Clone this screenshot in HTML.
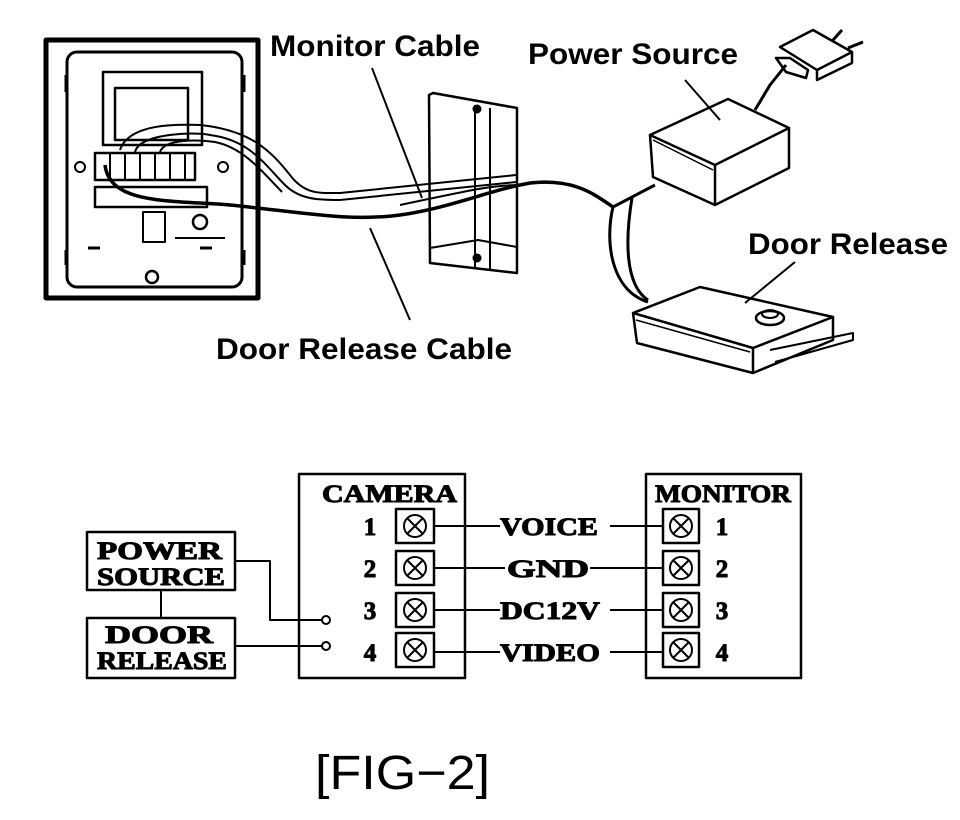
<!DOCTYPE html>
<html><head><meta charset="utf-8"><style>
html,body{margin:0;padding:0;background:#fff;}
svg{display:block;}
.s{font-family:"Liberation Sans",sans-serif;font-weight:bold;}
.r{font-family:"Liberation Serif",serif;font-weight:bold;}
</style></head><body>
<svg width="960" height="820" viewBox="0 0 960 820" xmlns="http://www.w3.org/2000/svg" fill="none" stroke="#000" stroke-linejoin="round">
<!-- camera device -->
<rect x="46" y="40" width="212" height="258" stroke-width="5"/>
<rect x="67" y="52" width="175" height="235" rx="10" stroke-width="3"/>
<rect x="103" y="72" width="99" height="73" stroke-width="2.5"/>
<rect x="115" y="88" width="73" height="52" stroke-width="2.5"/>
<rect x="95" y="153" width="100" height="27" stroke-width="2.5"/>
<g stroke-width="2"><line x1="110" y1="153" x2="110" y2="180"/><line x1="125" y1="153" x2="125" y2="180"/><line x1="140" y1="153" x2="140" y2="180"/><line x1="155" y1="153" x2="155" y2="180"/><line x1="170" y1="153" x2="170" y2="180"/><line x1="185" y1="153" x2="185" y2="180"/></g>
<rect x="95" y="187" width="112" height="20" stroke-width="2.5"/>
<circle cx="80" cy="167" r="5" stroke-width="2"/><circle cx="223" cy="167" r="5" stroke-width="2"/>
<circle cx="152" cy="277" r="6" stroke-width="2.5"/>
<rect x="143" y="212" width="22" height="30" stroke-width="2"/>
<circle cx="200" cy="222" r="7" stroke-width="2.5"/>
<line x1="175" y1="238" x2="225" y2="238" stroke-width="2"/>
<line x1="88" y1="248" x2="100" y2="248" stroke-width="3"/><line x1="200" y1="248" x2="212" y2="248" stroke-width="3"/>
<g stroke-width="3"><line x1="66" y1="75" x2="66" y2="92"/><line x1="244" y1="75" x2="244" y2="92"/><line x1="66" y1="250" x2="66" y2="265"/><line x1="244" y1="250" x2="244" y2="265"/></g>
<!-- wall box -->
<path d="M429 95 L433 93 L517 108 L517 273 L430 263 Z" stroke-width="2.5"/>
<line x1="475" y1="105" x2="475" y2="268" stroke-width="2"/>
<line x1="490" y1="108" x2="490" y2="270" stroke-width="2"/>
<circle cx="477" cy="109" r="4" fill="#000"/><circle cx="477" cy="258" r="4" fill="#000"/>
<path d="M430 248 L478 240 L517 247" stroke-width="2"/>
<!-- monitor cable (double) -->
<path d="M120 150 C130 120 190 125 200 125 C250 130 270 150 290 175 C305 195 320 193 340 193 L516 175" stroke-width="2"/>
<path d="M135 152 C140 132 200 132 210 135 C250 140 265 165 285 185 C300 200 320 200 340 200 L516 182" stroke-width="2"/>
<path d="M160 152 C165 138 200 140 215 142 C245 148 265 175 282 192" stroke-width="2"/>
<!-- door release cable -->
<path d="M105 165 C110 205 170 200 230 205 C300 212 350 222 400 215 C450 208 490 190 530 183 C575 178 595 195 613 207" stroke-width="3.5"/>
<!-- junction & loops -->
<path d="M613 207 L655 185" stroke-width="3"/>
<path d="M613 207 C605 240 610 290 648 302" stroke-width="3"/>
<path d="M632 198 C625 240 625 285 648 300" stroke-width="3"/>
<path d="M520 185 C495 185 480 188 400 205" stroke-width="2"/>
<!-- power box -->
<path d="M650 135 L728 99 L789 128 L715 165 Z" stroke-width="2.5"/>
<path d="M650 135 L653 177 L715 205 L789 168 L789 128" stroke-width="2.5"/>
<path d="M715 165 L715 205" stroke-width="2.5"/>
<path d="M653 140 L713 170" stroke-width="1.5"/>
<path d="M755 110 L770 85 L786 65" stroke-width="3"/>
<!-- plug -->
<path d="M780 47 L813 30 L852 52 L817 70 Z" stroke-width="2.5"/>
<path d="M817 70 L817 80 L852 63 L852 52" stroke-width="2.5"/>
<path d="M776 58 L786 72 L806 78 L808 70 L790 58 Z" stroke-width="2.5"/>
<line x1="833" y1="40" x2="842" y2="30" stroke-width="3"/><line x1="848" y1="48" x2="863" y2="42" stroke-width="3"/>
<!-- door release -->
<path d="M633 313 L700 287 L833 317 L753 348 Z" stroke-width="2.5"/>
<path d="M633 313 L637 343 L753 373 L833 340 L833 317" stroke-width="2.5"/>
<path d="M753 348 L753 373" stroke-width="2.5"/>
<path d="M636 320 L750 352" stroke-width="1.5"/>
<path d="M770 350 L853 333 L853 340 L775 362" stroke-width="2"/>
<ellipse cx="770" cy="318" rx="14" ry="7" stroke-width="2.5"/>
<ellipse cx="770" cy="314" rx="8" ry="4" stroke-width="2"/>
<!-- leaders -->
<g stroke-width="2">
<line x1="372" y1="68" x2="422" y2="198"/>
<line x1="370" y1="228" x2="410" y2="320"/>
<line x1="685" y1="80" x2="720" y2="120"/>
<line x1="795" y1="262" x2="745" y2="303"/>
</g>
<g stroke="none" fill="#000" class="s" font-size="30">
<text x="270" y="56" textLength="210" lengthAdjust="spacingAndGlyphs">Monitor Cable</text>
<text x="528" y="64" textLength="210" lengthAdjust="spacingAndGlyphs">Power Source</text>
<text x="748" y="254" textLength="200" lengthAdjust="spacingAndGlyphs">Door Release</text>
<text x="216" y="359" textLength="296" lengthAdjust="spacingAndGlyphs">Door Release Cable</text>
</g>
<!-- wiring diagram -->
<rect x="299" y="474" width="166" height="204" stroke-width="2.5"/>
<rect x="646" y="474" width="155" height="204" stroke-width="2.5"/>
<rect x="87" y="532" width="148" height="58" stroke-width="2.5"/>
<rect x="87" y="618" width="148" height="60" stroke-width="2.5"/>
<line x1="161" y1="590" x2="161" y2="618" stroke-width="2"/>
<path d="M235 561 L270 561 L270 620 L322 620" stroke-width="2"/>
<path d="M235 646 L322 646" stroke-width="2"/>
<circle cx="326" cy="620" r="4" stroke-width="2" fill="#fff"/>
<circle cx="326" cy="646" r="4" stroke-width="2" fill="#fff"/>
<g stroke-width="2.5">
<rect x="396" y="509" width="38" height="34"/><rect x="396" y="551" width="38" height="34"/>
<rect x="396" y="593" width="38" height="34"/><rect x="396" y="633" width="38" height="34"/>
<rect x="663" y="509" width="36" height="34"/><rect x="663" y="551" width="36" height="34"/>
<rect x="663" y="593" width="36" height="34"/><rect x="663" y="633" width="36" height="34"/>
</g>
<g stroke-width="2">
<g id="t"><circle cx="415" cy="526" r="11"/><line x1="407" y1="518" x2="423" y2="534"/><line x1="423" y1="518" x2="407" y2="534"/></g>
<use href="#t" y="42"/><use href="#t" y="84"/><use href="#t" y="124"/>
<use href="#t" x="266"/><use href="#t" x="266" y="42"/><use href="#t" x="266" y="84"/><use href="#t" x="266" y="124"/>
<line x1="434" y1="526" x2="500" y2="526"/><line x1="610" y1="526" x2="663" y2="526"/>
<line x1="434" y1="568" x2="505" y2="568"/><line x1="590" y1="568" x2="663" y2="568"/>
<line x1="434" y1="610" x2="500" y2="610"/><line x1="610" y1="610" x2="663" y2="610"/>
<line x1="434" y1="652" x2="500" y2="652"/><line x1="610" y1="652" x2="663" y2="652"/>
</g>
<g fill="#000" stroke="#000" stroke-width="1" class="r" font-size="25">
<text x="322" y="502" textLength="135" lengthAdjust="spacingAndGlyphs">CAMERA</text>
<text x="655" y="502" textLength="136" lengthAdjust="spacingAndGlyphs">MONITOR</text>
<text x="97" y="559" textLength="125" lengthAdjust="spacingAndGlyphs">POWER</text>
<text x="97" y="585" textLength="128" lengthAdjust="spacingAndGlyphs">SOURCE</text>
<text x="105" y="643" textLength="108" lengthAdjust="spacingAndGlyphs">DOOR</text>
<text x="97" y="669" textLength="130" lengthAdjust="spacingAndGlyphs">RELEASE</text>
<text x="370" y="535" text-anchor="middle">1</text><text x="370" y="577" text-anchor="middle">2</text>
<text x="370" y="619" text-anchor="middle">3</text><text x="370" y="661" text-anchor="middle">4</text>
<text x="722" y="535" text-anchor="middle">1</text><text x="722" y="577" text-anchor="middle">2</text>
<text x="722" y="619" text-anchor="middle">3</text><text x="722" y="661" text-anchor="middle">4</text>
<text x="500" y="535" textLength="98" lengthAdjust="spacingAndGlyphs">VOICE</text>
<text x="507" y="577" textLength="82" lengthAdjust="spacingAndGlyphs">GND</text>
<text x="500" y="619" textLength="100" lengthAdjust="spacingAndGlyphs">DC12V</text>
<text x="500" y="661" textLength="100" lengthAdjust="spacingAndGlyphs">VIDEO</text>
</g>
<text x="315" y="789" textLength="175" lengthAdjust="spacingAndGlyphs" stroke="none" fill="#000" font-family="Liberation Sans, sans-serif" font-size="48">[FIG−2]</text>
</svg>
</body></html>
